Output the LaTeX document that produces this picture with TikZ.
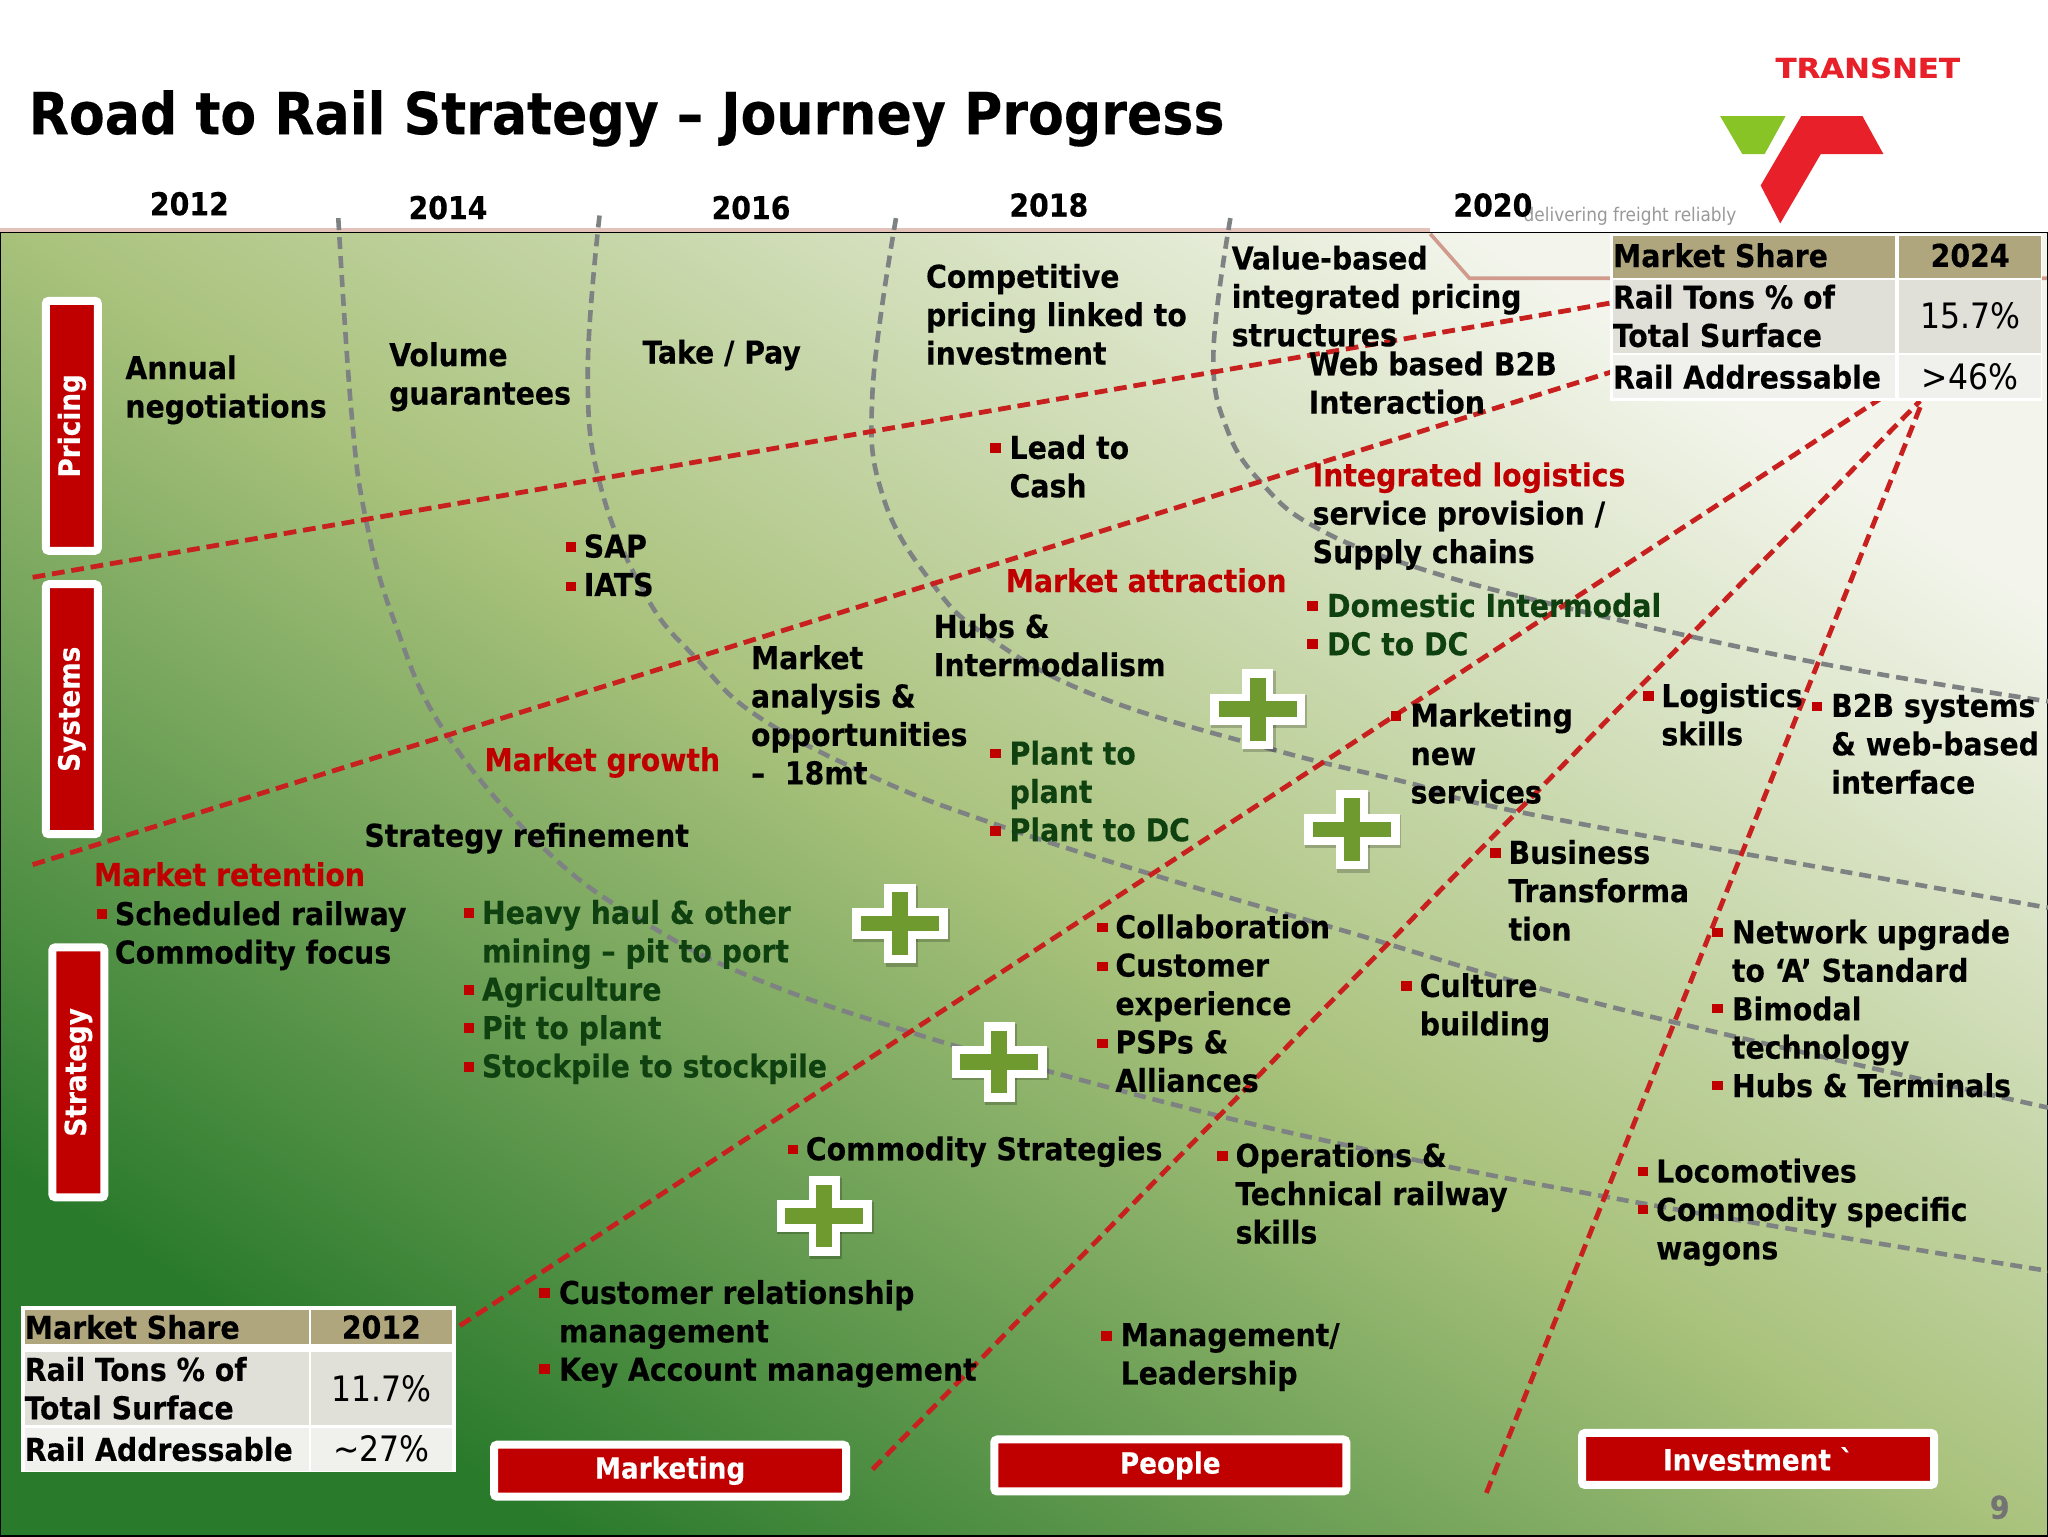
\documentclass[tikz,border=0pt]{standalone}
\usepackage{fontspec}
\setmainfont{DejaVu Sans Condensed}[BoldFont={DejaVu Sans Condensed Bold},BoldFeatures={FakeBold=0.25}]
\usepackage{tikz}
\usetikzlibrary{shadows, positioning}
\definecolor{barred}{HTML}{C00000}
\definecolor{linered}{HTML}{C8201F}
\definecolor{linegrey}{HTML}{7E8283}
\definecolor{leafgreen}{HTML}{0F400F}
\definecolor{plusgreen}{HTML}{6F9A2F}
\definecolor{headtan}{HTML}{B0A67E}
\definecolor{rowgrey}{HTML}{E0E0D8}
\definecolor{rowpale}{HTML}{F0F0EC}
\definecolor{panelpale}{HTML}{F3F5EC}
\definecolor{panelmid}{HTML}{A9C27C}
\definecolor{paneldark}{HTML}{2A7A2C}
\definecolor{panelrim}{HTML}{D09A8C}
\definecolor{logored}{HTML}{E8202A}
\definecolor{logogreen}{HTML}{88C425}

\begin{document}
\begin{tikzpicture}[
	x=0.65306pt, y=-0.65306pt,
	lbl/.style = {shape=rectangle, draw=none, inner sep=0mm, outer sep=0mm, anchor=north west, align=left, yshift=-1.3pt, font=\fontsize{15.75}{19.2}\selectfont\bfseries},
	leaf/.style = {lbl, text=leafgreen},
	head/.style = {lbl, text=barred},
	year/.style = {lbl, anchor=center},
	tabbox/.style = {shape=rectangle, fill=barred, draw=white, line width=4pt, rounded corners=1.5pt, text=white, font=\fontsize{14.6}{19.2}\selectfont\bfseries, inner sep=0mm, minimum width=125pt, minimum height=26pt},
	bottomtab/.style = {tabbox, drop shadow={shadow xshift=1pt, shadow yshift=-1.5pt, opacity=.35, fill=black}, minimum width=176pt},
	sidetab/.style = {tabbox, rotate=90, drop shadow={shadow xshift=-1.5pt, shadow yshift=-1pt, opacity=.35, fill=black}},
	cell/.style = {shape=rectangle, draw=none, inner sep=0mm, outer sep=0mm},
	celltxt/.style = {lbl, anchor=west, yshift=1.3pt},
	cellval/.style = {cell, font=\fontsize{17.5}{21}\selectfont},
	redline/.style = {draw=linered, line width=2.4pt, dash pattern=on 6.4pt off 3.4pt},
	greyline/.style = {draw=linegrey, line width=2.3pt, dash pattern=on 6pt off 3.5pt},
	]
% background panel
\useasboundingbox (0,0) rectangle (1568,1176);
\fill[white] (0,0) rectangle (1568,1176);
\coordinate (pa) at (0,178);
\coordinate (pb) at (1568,1176);
\shade[top color=panelpale, bottom color=paneldark, middle color=panelmid, shading angle=-33] (pa) rectangle (pb);
\draw[panelrim!60!white, line width=2pt] (0,176) -- (1095,176);
\draw[panelrim, line width=1.8pt] (1095,179) -- (1125,213) -- (1568,213);
\draw[black, line width=0.8pt] (pa) rectangle (pb);
% logo
\fill[logogreen] (1317,89) -- (1367,89) -- (1351,118) -- (1334,118) -- cycle;
\fill[logored] (1379,89) -- (1426,89) -- (1442,118) -- (1394,118) -- (1363,171) -- (1348,142) -- cycle;
\node[lbl, anchor=center, text=logored, xscale=1.24, font=\fontsize{13.8}{15}\selectfont\bfseries] (brand) at (1430,50) {TRANSNET};
\node[lbl, anchor=center, text=black!40, font=\fontsize{9.4}{12}\selectfont] (motto) at (1248,164) {delivering freight reliably};
% title and years
\node[lbl, font=\fontsize{29}{34}\selectfont\bfseries] (title) at (22,67) {Road to Rail Strategy -- Journey Progress};
\node[year] (y12) at (145,154) {2012};
\node[year] (y14) at (343,157) {2014};
\node[year] (y16) at (575,157) {2016};
\node[year] (y18) at (803,155) {2018};
\node[year] (y20) at (1143,155) {2020};
% grey curves, from left to right
\draw[greyline] plot[smooth, tension=0.7] coordinates {(259,167) (269,315) (280,397) (302,476) (341,561) (420,653) (498,709) (580,750) (693,789) (802,820) (1000,870) (1250,920) (1568,973)};
\draw[greyline] plot[smooth, tension=0.7] coordinates {(459,165) (450,286) (460,373) (495,457) (534,505) (581,549) (671,596) (759,630) (877,668) (1020,710) (1230,770) (1568,848)};
\draw[greyline] plot[smooth, tension=0.7] coordinates {(686,167) (668,300) (676,380) (714,447) (757,488) (840,533) (975,574) (1077,599) (1180,625) (1568,695)};
\draw[greyline] plot[smooth, tension=0.7] coordinates {(942,167) (929,271) (940,330) (967,371) (1006,403) (1077,432) (1194,464) (1389,507) (1568,537)};
% red lines
\coordinate (r1a) at (25,442);
\coordinate (r1b) at (1233,232);
\coordinate (r2a) at (25,662);
\coordinate (r2b) at (1233,285);
\coordinate (r3a) at (352,1015);
\coordinate (r3b) at (1440,305);
\coordinate (r4a) at (668,1125);
\coordinate (r4b) at (1470,307);
\coordinate (r5a) at (1138,1143);
\coordinate (r5b) at (1472,307);
\draw[redline] (r1a) -- (r1b);
\draw[redline] (r2a) -- (r2b);
\draw[redline] (r3a) -- (r3b);
\draw[redline] (r4a) -- (r4b);
\draw[redline] (r5a) -- (r5b);
% plus signs
\foreach \px/\py in {963/543, 1035/635, 689/707, 765/813, 631/931} {
	\begin{scope}[shift={(\px,\py)}]
		\fill[black, opacity=.2] (-36,-11) rectangle (38,14);
		\fill[black, opacity=.2] (-11,-29) rectangle (14,33);
		\fill[white] (-36.5,-12) rectangle (36.5,12);
		\fill[white] (-12,-30.5) rectangle (12,30.5);
		\fill[plusgreen] (-30,-6) rectangle (30,6);
		\fill[plusgreen] (-6,-24) rectangle (6,24);
	\end{scope}
}
% side and bottom tabs
\node[sidetab] (pricing) at (55,326) {Pricing};
\node[sidetab] (systems) at (55,543) {Systems};
\node[sidetab] (strategy) at (60,821) {Strategy};
\node[bottomtab] (marketing) at (513,1126) {Marketing};
\node[bottomtab] (people) at (896,1122) {People};
\node[bottomtab] (investment) at (1346,1117) {Investment ˋ};
% bullets
\foreach \bx/\by in {762/343, 437/419, 437/449, 1005/464, 1005/493, 762/577, 762/636, 78/700,
	359/699, 359/758, 359/787, 359/817, 607/880, 417/990, 417/1048, 844/710, 844/740, 844/799,
	847/1023, 936/885, 1069/548, 1077/755, 1145/653, 1262/533, 1391/541, 1315/714, 1315/772,
	1315/831, 1258/897, 1258/926}
	\fill[barred] (\bx-4,\by-3.7) rectangle (\bx+4,\by+3.7);
% pricing row
\node[lbl] (annual) at (96,270) {Annual \\ negotiations};
\node[lbl] (volume) at (298,260) {Volume \\ guarantees};
\node[lbl] (takepay) at (492,258) {Take / Pay};
\node[lbl] (compet) at (709,200) {Competitive \\ pricing linked to \\ investment};
\node[lbl] (value) at (943,186) {Value-based \\ integrated pricing \\ structures};
\node[lbl] (web) at (1002,267) {Web based B2B \\ Interaction};
% systems row
\node[lbl] (cash) at (773,331) {Lead to \\ Cash};
\node[lbl] (sap) at (447,407) {SAP \\ IATS};
\node[lbl] (analysis) at (575,492) {Market \\ analysis \& \\ opportunities \\ --~~18mt};
\node[lbl] (hubs) at (715,468) {Hubs \& \\ Intermodalism};
\node[lbl] (logistics) at (1005,352) {\textcolor{barred}{Integrated logistics} \\ service provision / \\ Supply chains};
% strategy row
\node[head] (attract) at (770,433) {Market attraction};
\node[head] (growth) at (371,570) {Market growth};
\node[head] (retain) at (72,658) {Market retention};
\node[lbl] (refine) at (279,628) {Strategy refinement};
\node[lbl] (sched) at (88,688) {Scheduled railway \\ Commodity focus};
\node[leaf] (heavy) at (369,687) {Heavy haul \& other \\ mining -- pit to port \\ Agriculture \\ Pit to plant \\ Stockpile to stockpile};
\node[leaf] (plant) at (773,565) {Plant to \\ plant \\ Plant to DC};
\node[leaf] (domestic) at (1016,452) {Domestic Intermodal \\ DC to DC};
% marketing column
\node[lbl] (commod) at (617,868) {Commodity Strategies};
\node[lbl] (custom) at (428,978) {Customer relationship \\ management \\ Key Account management};
\node[lbl] (collab) at (854,698) {Collaboration \\ Customer \\ experience \\ PSPs \& \\ Alliances};
\node[lbl] (newserv) at (1080,536) {Marketing \\ new \\ services};
% people column
\node[lbl] (mgmt) at (858,1011) {Management/ \\ Leadership};
\node[lbl] (ops) at (946,873) {Operations \& \\ Technical railway \\ skills};
\node[lbl] (culture) at (1087,743) {Culture \\ building};
\node[lbl] (business) at (1155,641) {Business \\ Transforma \\ tion};
\node[lbl] (skills) at (1272,521) {Logistics \\ skills};
% investment column
\node[lbl] (b2b) at (1402,529) {B2B systems \\ \& web-based \\ interface};
\node[lbl] (network) at (1326,702) {Network upgrade \\ to ‘A’ Standard \\ Bimodal \\ technology \\ Hubs \& Terminals};
\node[lbl] (loco) at (1268,885) {Locomotives \\ Commodity specific \\ wagons};
\node[lbl, anchor=center, text=black!55] (page) at (1531,1152) {9};
% share table 2024
\fill[white] (1233,179) rectangle (1563,307);
\node[cell, fill=headtan, minimum width=141pt, minimum height=21pt, anchor=north west] (th) at (1235,181) {};
\node[cell, fill=headtan, minimum width=71pt, minimum height=21pt, anchor=north west] (tv) at (1454,181) {};
\node[cell, fill=rowgrey, minimum width=141pt, minimum height=36.5pt, anchor=north west] (ah) at (1235,214) {};
\node[cell, fill=rowgrey, minimum width=71pt, minimum height=36.5pt, anchor=north west] (av) at (1454,214) {};
\node[cell, fill=rowpale, minimum width=141pt, minimum height=21.5pt, anchor=north west] (bh) at (1235,272) {};
\node[cell, fill=rowpale, minimum width=71pt, minimum height=21.5pt, anchor=north west] (bv) at (1454,272) {};
\node[celltxt, yshift=1pt] at (th.west) {Market Share};
\node[lbl, anchor=center, yshift=2.3pt] at (tv) {2024};
\node[celltxt] at (ah.west) {Rail Tons \% of \\ Total Surface};
\node[cellval] at (av) {15.7\%};
\node[celltxt] at (bh.west) {Rail Addressable};
\node[cellval] at (bv) {>46\%};
% share table 2012
\fill[white] (16,1000) rectangle (349,1127);
\node[cell, fill=headtan, minimum width=142pt, minimum height=17pt, anchor=north west] (uh) at (19,1003) {};
\node[cell, fill=headtan, minimum width=70.5pt, minimum height=17pt, anchor=north west] (uv) at (238,1003) {};
\node[cell, fill=rowgrey, minimum width=142pt, minimum height=36.5pt, anchor=north west] (ch) at (19,1035) {};
\node[cell, fill=rowgrey, minimum width=70.5pt, minimum height=36.5pt, anchor=north west] (cv) at (238,1035) {};
\node[cell, fill=rowpale, minimum width=142pt, minimum height=21.5pt, anchor=north west] (dh) at (19,1093) {};
\node[cell, fill=rowpale, minimum width=70.5pt, minimum height=21.5pt, anchor=north west] (dv) at (238,1093) {};
\node[celltxt] at (uh.west) {Market Share};
\node[lbl, anchor=center, yshift=1.3pt] at (uv) {2012};
\node[celltxt] at (ch.west) {Rail Tons \% of \\ Total Surface};
\node[cellval] at (cv) {11.7\%};
\node[celltxt] at (dh.west) {Rail Addressable};
\node[cellval] at (dv) {\textasciitilde 27\%};
\end{tikzpicture}
\end{document}
